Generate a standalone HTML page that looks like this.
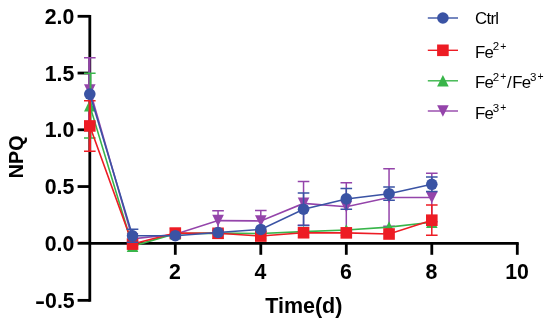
<!DOCTYPE html>
<html><head><meta charset="utf-8"><title>NPQ</title>
<style>html,body{margin:0;padding:0;background:#fff}svg{display:block}</style></head>
<body>
<svg width="550" height="324" viewBox="0 0 550 324">
<rect width="550" height="324" fill="#fff"/>
<g stroke="#000" stroke-width="2.8" fill="none" stroke-linecap="butt">
<path d="M89.80 14.90V301.75"/>
<path d="M89.80 243.30H518.70"/>
<path d="M77.6 16.30H89.80"/>
<path d="M77.6 73.05H89.80"/>
<path d="M77.6 129.80H89.80"/>
<path d="M77.6 186.55H89.80"/>
<path d="M77.6 243.30H89.80"/>
<path d="M77.6 300.35H89.80"/>
<path d="M175.30 243.30V254.8"/>
<path d="M260.80 243.30V254.8"/>
<path d="M346.30 243.30V254.8"/>
<path d="M431.80 243.30V254.8"/>
<path d="M517.30 243.30V254.8"/>
</g>
<g font-family="'Liberation Sans', Arial, sans-serif" font-weight="bold" font-size="21.3" fill="#000">
<text x="74.3" y="23.90" text-anchor="end">2.0</text>
<text x="74.3" y="80.65" text-anchor="end">1.5</text>
<text x="74.3" y="137.40" text-anchor="end">1.0</text>
<text x="74.3" y="194.15" text-anchor="end">0.5</text>
<text x="74.3" y="250.90" text-anchor="end">0.0</text>
<text x="35.0" y="307.95"><tspan textLength="10.1" lengthAdjust="spacingAndGlyphs">-</tspan>0.5</text>
<text x="175.00" y="279.1" text-anchor="middle">2</text>
<text x="260.50" y="279.1" text-anchor="middle">4</text>
<text x="346.00" y="279.1" text-anchor="middle">6</text>
<text x="431.50" y="279.1" text-anchor="middle">8</text>
<text x="517.00" y="279.1" text-anchor="middle">10</text>
<text x="303.8" y="312.7" text-anchor="middle" font-size="21.5">Time(d)</text>
<text transform="translate(22.8 156.8) rotate(-90)" text-anchor="middle" font-size="19.7">NPQ</text>
</g>
<polyline points="89.80,90.07 132.55,238.76 175.30,234.22 218.05,220.60 260.80,220.94 303.55,203.40 346.30,206.75 389.05,197.56 431.80,197.56" fill="none" stroke="#9444AA" stroke-width="1.6"/>
<path d="M89.40 57.73V122.42" stroke="#9444AA" stroke-width="2.4" fill="none"/>
<path d="M84.00 57.73H95.60M84.00 122.42H95.60" stroke="#9444AA" stroke-width="1.5" fill="none"/>
<path d="M218.05 210.84V230.36M212.25 210.84H223.85M212.25 230.36H223.85" stroke="#9444AA" stroke-width="1.5" fill="none"/>
<path d="M260.80 210.50V231.38M255.00 210.50H266.60M255.00 231.38H266.60" stroke="#9444AA" stroke-width="1.5" fill="none"/>
<path d="M303.55 181.50V225.31M297.75 181.50H309.35M297.75 225.31H309.35" stroke="#9444AA" stroke-width="1.5" fill="none"/>
<path d="M346.30 182.69V230.81M340.50 182.69H352.10M340.50 230.81H352.10" stroke="#9444AA" stroke-width="1.5" fill="none"/>
<path d="M389.05 168.84V226.28M383.25 168.84H394.85M383.25 226.28H394.85" stroke="#9444AA" stroke-width="1.5" fill="none"/>
<path d="M431.80 173.27V221.85M426.00 173.27H437.60M426.00 221.85H437.60" stroke="#9444AA" stroke-width="1.5" fill="none"/>
<polygon points="84.00,84.27 95.60,84.27 89.80,95.87" fill="#9444AA"/>
<polygon points="126.75,232.96 138.35,232.96 132.55,244.56" fill="#9444AA"/>
<polygon points="169.50,228.42 181.10,228.42 175.30,240.02" fill="#9444AA"/>
<polygon points="212.25,214.80 223.85,214.80 218.05,226.40" fill="#9444AA"/>
<polygon points="255.00,215.14 266.60,215.14 260.80,226.74" fill="#9444AA"/>
<polygon points="297.75,197.60 309.35,197.60 303.55,209.20" fill="#9444AA"/>
<polygon points="340.50,200.95 352.10,200.95 346.30,212.55" fill="#9444AA"/>
<polygon points="383.25,191.76 394.85,191.76 389.05,203.36" fill="#9444AA"/>
<polygon points="426.00,191.76 437.60,191.76 431.80,203.36" fill="#9444AA"/>
<polyline points="89.80,105.62 132.55,246.14 175.30,233.65 218.05,233.09 260.80,233.54 303.55,231.61 346.30,230.02 389.05,227.10 431.80,222.30" fill="none" stroke="#39B54A" stroke-width="1.6"/>
<path d="M90.50 73.28V137.97" stroke="#39B54A" stroke-width="1.9" fill="none"/>
<path d="M84.00 73.28H95.60M84.00 137.97H95.60" stroke="#39B54A" stroke-width="1.5" fill="none"/>
<polygon points="89.80,99.82 95.60,111.42 84.00,111.42" fill="#39B54A"/>
<polygon points="132.55,240.34 138.35,251.94 126.75,251.94" fill="#39B54A"/>
<polygon points="175.30,227.85 181.10,239.45 169.50,239.45" fill="#39B54A"/>
<polygon points="218.05,227.28 223.85,238.89 212.25,238.89" fill="#39B54A"/>
<polygon points="260.80,227.74 266.60,239.34 255.00,239.34" fill="#39B54A"/>
<polygon points="303.55,225.81 309.35,237.41 297.75,237.41" fill="#39B54A"/>
<polygon points="346.30,224.22 352.10,235.82 340.50,235.82" fill="#39B54A"/>
<polygon points="389.05,221.30 394.85,232.90 383.25,232.90" fill="#39B54A"/>
<polygon points="431.80,216.50 437.60,228.10 426.00,228.10" fill="#39B54A"/>
<polyline points="89.80,125.94 132.55,244.09 175.30,233.09 218.05,233.31 260.80,236.04 303.55,232.74 346.30,232.86 389.05,233.99 431.80,220.20" fill="none" stroke="#ED1C24" stroke-width="1.6"/>
<path d="M89.80 100.63V151.25" stroke="#ED1C24" stroke-width="2.4" fill="none"/>
<path d="M84.00 100.63H95.60M84.00 151.25H95.60" stroke="#ED1C24" stroke-width="1.5" fill="none"/>
<path d="M431.80 205.11V235.30M426.00 205.11H437.60M426.00 235.30H437.60" stroke="#ED1C24" stroke-width="1.5" fill="none"/>
<rect x="84.00" y="120.14" width="11.6" height="11.6" fill="#ED1C24"/>
<rect x="126.75" y="238.29" width="11.6" height="11.6" fill="#ED1C24"/>
<rect x="169.50" y="227.28" width="11.6" height="11.6" fill="#ED1C24"/>
<rect x="212.25" y="227.51" width="11.6" height="11.6" fill="#ED1C24"/>
<rect x="255.00" y="230.24" width="11.6" height="11.6" fill="#ED1C24"/>
<rect x="297.75" y="226.94" width="11.6" height="11.6" fill="#ED1C24"/>
<rect x="340.50" y="227.06" width="11.6" height="11.6" fill="#ED1C24"/>
<rect x="383.25" y="228.19" width="11.6" height="11.6" fill="#ED1C24"/>
<rect x="426.00" y="214.40" width="11.6" height="11.6" fill="#ED1C24"/>
<polyline points="89.80,94.10 132.55,235.81 175.30,235.70 218.05,232.52 260.80,229.45 303.55,209.20 346.30,198.92 389.05,193.70 431.80,184.28" fill="none" stroke="#3A53A4" stroke-width="1.6"/>
<path d="M132.55 229.34V242.28M126.75 229.34H138.35M126.75 242.28H138.35" stroke="#3A53A4" stroke-width="1.5" fill="none"/>
<path d="M303.55 192.91V225.50M297.75 192.91H309.35M297.75 225.50H309.35" stroke="#3A53A4" stroke-width="1.5" fill="none"/>
<path d="M346.30 188.48V209.36M340.50 188.48H352.10M340.50 209.36H352.10" stroke="#3A53A4" stroke-width="1.5" fill="none"/>
<path d="M389.05 187.12V200.28M383.25 187.12H394.85M383.25 200.28H394.85" stroke="#3A53A4" stroke-width="1.5" fill="none"/>
<path d="M431.80 177.02V191.54M426.00 177.02H437.60M426.00 191.54H437.60" stroke="#3A53A4" stroke-width="1.5" fill="none"/>
<circle cx="89.80" cy="94.10" r="5.8" fill="#3A53A4"/>
<circle cx="132.55" cy="235.81" r="5.8" fill="#3A53A4"/>
<circle cx="175.30" cy="235.70" r="5.8" fill="#3A53A4"/>
<circle cx="218.05" cy="232.52" r="5.8" fill="#3A53A4"/>
<circle cx="260.80" cy="229.45" r="5.8" fill="#3A53A4"/>
<circle cx="303.55" cy="209.20" r="5.8" fill="#3A53A4"/>
<circle cx="346.30" cy="198.92" r="5.8" fill="#3A53A4"/>
<circle cx="389.05" cy="193.70" r="5.8" fill="#3A53A4"/>
<circle cx="431.80" cy="184.28" r="5.8" fill="#3A53A4"/>
<path d="M427.8 18H458" stroke="#3A53A4" stroke-width="1.4"/>
<circle cx="442.90" cy="18.00" r="5.8" fill="#3A53A4"/>
<path d="M427.8 50.3H458" stroke="#ED1C24" stroke-width="1.4"/>
<rect x="437.10" y="44.50" width="11.6" height="11.6" fill="#ED1C24"/>
<path d="M427.8 80.8H458" stroke="#39B54A" stroke-width="1.4"/>
<polygon points="442.90,75.00 448.70,86.60 437.10,86.60" fill="#39B54A"/>
<path d="M427.8 111.0H458" stroke="#9444AA" stroke-width="1.4"/>
<polygon points="437.10,105.20 448.70,105.20 442.90,116.80" fill="#9444AA"/>
<g font-family="'Liberation Sans', Arial, sans-serif" font-size="16.8" letter-spacing="-0.7" fill="#000">
<text x="475.0" y="23.9">Ctrl</text>
<text x="475.0" y="57.9">Fe<tspan dy="-7.5" dx="-0.5" font-size="11.5" letter-spacing="0">2</tspan><tspan dx="1.2" dy="-0.5" font-size="10.4" letter-spacing="0">+</tspan></text>
<text x="475.0" y="88.2">Fe<tspan dy="-7.5" dx="-0.5" font-size="11.5" letter-spacing="0">2</tspan><tspan dx="1.2" dy="-0.5" font-size="10.4" letter-spacing="0">+</tspan><tspan dy="8.0" dx="0.6">/</tspan><tspan dx="1.3">Fe</tspan><tspan dy="-7.5" dx="-0.5" font-size="11.5" letter-spacing="0">3</tspan><tspan dx="1.2" dy="-0.5" font-size="10.4" letter-spacing="0">+</tspan></text>
<text x="475.0" y="119.1">Fe<tspan dy="-7.5" dx="-0.5" font-size="11.5" letter-spacing="0">3</tspan><tspan dx="1.2" dy="-0.5" font-size="10.4" letter-spacing="0">+</tspan></text>
</g>
</svg>
</body></html>
